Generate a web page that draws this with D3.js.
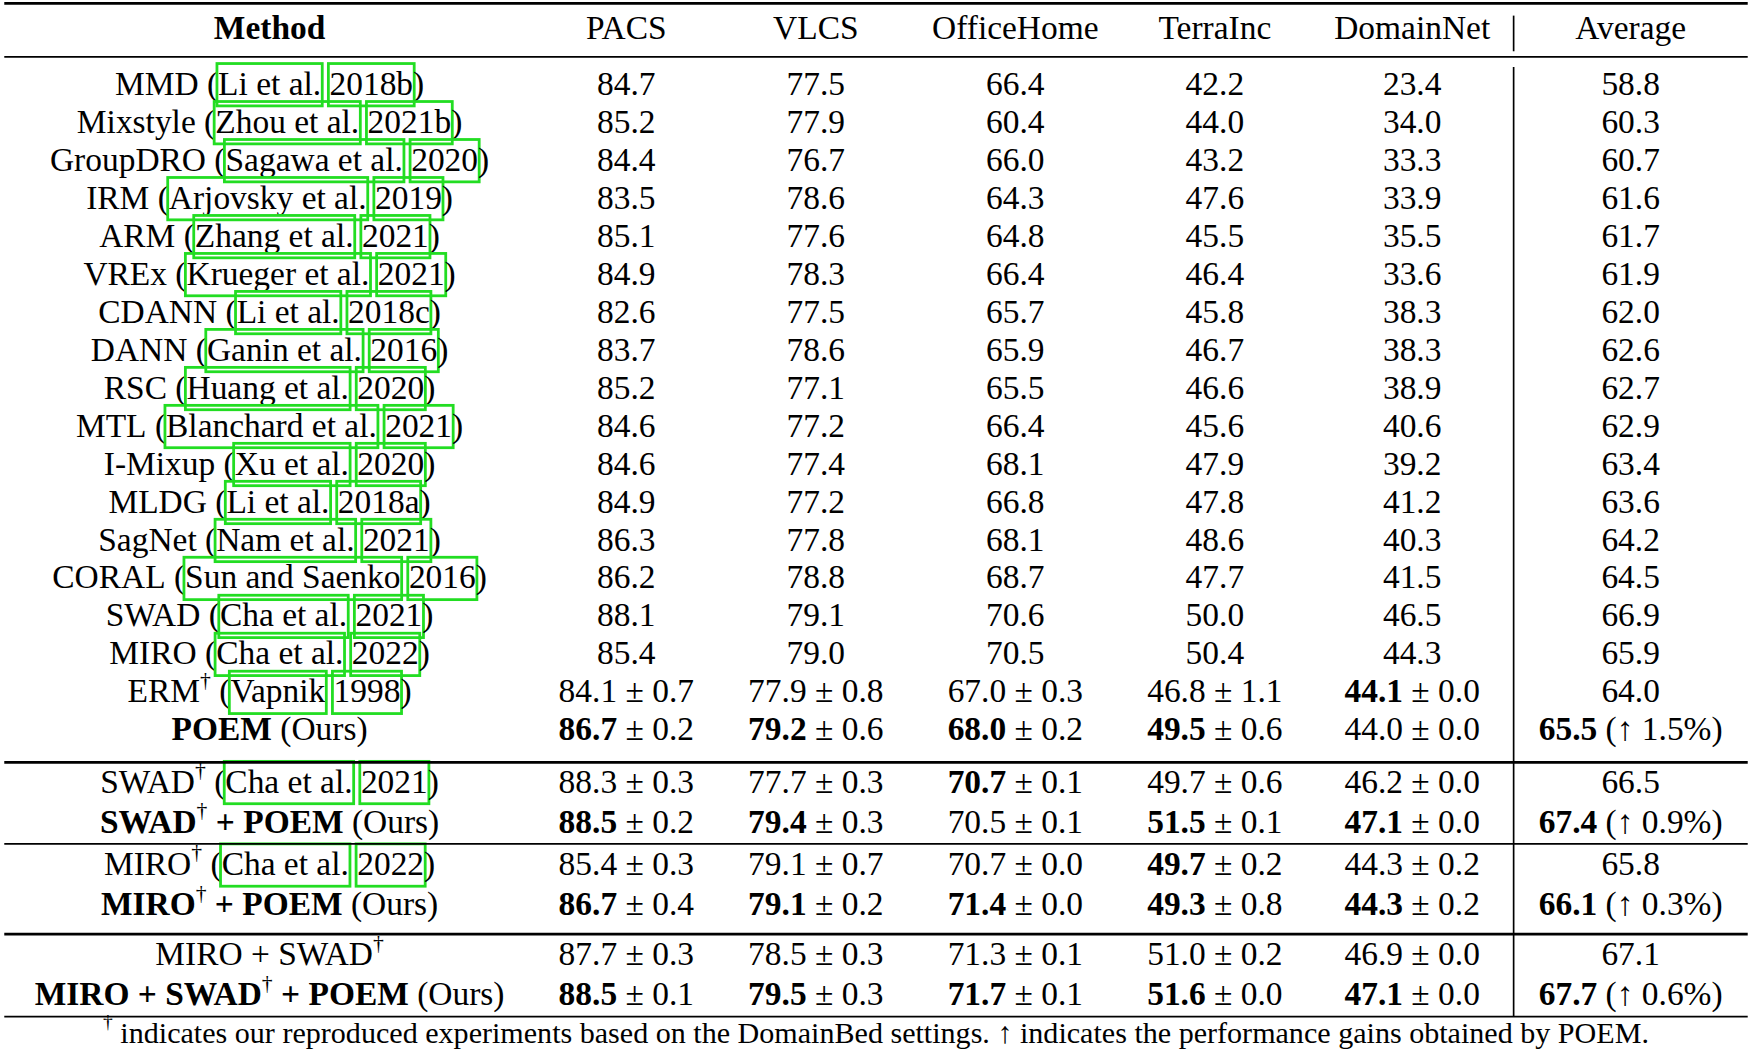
<!DOCTYPE html>
<html><head><meta charset="utf-8">
<script src="https://cdn.jsdelivr.net/npm/d3@7"></script>
<style>body{margin:0;background:#fff}text{font-family:"Liberation Serif","Times New Roman",serif;fill:#000;white-space:pre}</style>
</head><body><svg id="tab"></svg>
<script>
// table data
var columns = ["PACS", "VLCS", "OfficeHome", "TerraInc", "DomainNet", "Average"];
var methods = ["MMD", "Mixstyle", "GroupDRO", "IRM", "ARM", "VREx", "CDANN", "DANN", "RSC", "MTL",
  "I-Mixup", "MLDG", "SagNet", "CORAL", "SWAD", "MIRO", "ERM†", "*POEM", "SWAD†", "*SWAD† + POEM",
  "MIRO†", "*MIRO† + POEM", "MIRO + SWAD†", "*MIRO + SWAD† + POEM"];
var citeAuthor = ["Li et al.", "Zhou et al.", "Sagawa et al.", "Arjovsky et al.", "Zhang et al.", "Krueger et al.",
  "Li et al.", "Ganin et al.", "Huang et al.", "Blanchard et al.", "Xu et al.", "Li et al.", "Nam et al.",
  "Sun and Saenko", "Cha et al.", "Cha et al.", "Vapnik", null, "Cha et al.", null, "Cha et al.", null, null, null];
var citeYear = ["2018b", "2021b", "2020", "2019", "2021", "2021", "2018c", "2016", "2020", "2021", "2020",
  "2018a", "2021", "2016", "2021", "2022", "1998", null, "2021", null, "2022", null, null, null];
var pacs = [84.7,85.2,84.4,83.5,85.1,84.9,82.6,83.7,85.2,84.6,84.6,84.9,86.3,86.2,88.1,85.4,84.1,86.7,88.3,88.5,85.4,86.7,87.7,88.5];
var vlcs = [77.5,77.9,76.7,78.6,77.6,78.3,77.5,78.6,77.1,77.2,77.4,77.2,77.8,78.8,79.1,79.0,77.9,79.2,77.7,79.4,79.1,79.1,78.5,79.5];
var officeHome = [66.4,60.4,66.0,64.3,64.8,66.4,65.7,65.9,65.5,66.4,68.1,66.8,68.1,68.7,70.6,70.5,67.0,68.0,70.7,70.5,70.7,71.4,71.3,71.7];
var terraInc = [42.2,44.0,43.2,47.6,45.5,46.4,45.8,46.7,46.6,45.6,47.9,47.8,48.6,47.7,50.0,50.4,46.8,49.5,49.7,51.5,49.7,49.3,51.0,51.6];
var domainNet = [23.4,34.0,33.3,33.9,35.5,33.6,38.3,38.3,38.9,40.6,39.2,41.2,40.3,41.5,46.5,44.3,44.1,44.0,46.2,47.1,44.3,44.3,46.9,47.1];
var average = [58.8,60.3,60.7,61.6,61.7,61.9,62.0,62.6,62.7,62.9,63.4,63.6,64.2,64.5,66.9,65.9,64.0,65.5,66.5,67.4,65.8,66.1,67.1,67.7];
// std from row 16 on
var pacsStd = [0.7,0.2,0.3,0.2,0.3,0.4,0.3,0.1];
var vlcsStd = [0.8,0.6,0.3,0.3,0.7,0.2,0.3,0.3];
var officeHomeStd = [0.3,0.2,0.1,0.1,0.0,0.0,0.1,0.1];
var terraIncStd = [1.1,0.6,0.6,0.1,0.2,0.8,0.2,0.0];
var domainNetStd = [0.0,0.0,0.0,0.0,0.2,0.2,0.0,0.0];
var averageGain = {17: 1.5, 19: 0.9, 21: 0.3, 23: 0.6};
var boldRows = [[17,19,21,23],[17,19,21,23],[17,18,21,23],[17,19,20,21,23],[16,19,21,23],[17,19,21,23]];
var footnote = " indicates our reproduced experiments based on the DomainBed settings. ↑ indicates the performance gains obtained by POEM.";

var W = 1568, H = 950, fs = 30;
var svg = d3.select("#tab").attr("width", 1752).attr("height", 1059).attr("viewBox", [0, 0, W, H]);
var colX = d3.scaleOrdinal().domain(["Method"].concat(columns)).range([240, 560, 730, 909, 1088, 1265, 1461]);
var rowGroup = [0,0,0,0,0,0,0,0,0,0,0,0,0,0,0,0,0,0,1,1,2,2,3,3];
var groupStart = [75, 701, 775, 856];
var groupFirst = [0, 18, 20, 22];
function rowY(i) { var g = rowGroup[i]; return groupStart[g] + (i - groupFirst[g]) * (g === 0 ? 34.07 : 36); }

// measure + draw segmented text centred at cx
var meas = svg.append("text").attr("font-size", fs).attr("opacity", 0);
function width(t, bold) { meas.attr("font-weight", bold ? "bold" : "normal").text(t); return meas.node().getComputedTextLength(); }
function drawSegs(segs, cx, y, size) {
  size = size || fs;
  meas.attr("font-size", size);
  segs.forEach(function (s) { s.w = s.sup ? width(s.t, false) * 0.65 : width(s.t, s.bold); });
  var x = cx - d3.sum(segs, function (s) { return s.w; }) / 2;
  segs.forEach(function (s) {
    svg.append("text").attr("x", x).attr("y", s.sup ? y - 4 : y + 10)
      .attr("font-size", s.sup ? size * 0.65 : size).attr("font-weight", s.bold ? "bold" : "normal").text(s.t);
    if (s.box) svg.append("rect").attr("x", x - 1).attr("y", y - 18).attr("width", s.w + 2).attr("height", 38)
      .attr("fill", "none").attr("stroke", "#22dd22").attr("stroke-width", 2.5);
    x += s.w;
  });
  meas.attr("font-size", fs);
}
function nameSegs(name) {
  var bold = name[0] === "*"; if (bold) name = name.slice(1);
  var segs = [];
  name.split("†").forEach(function (p, k, a) {
    if (p) segs.push({t: p, bold: bold});
    if (k < a.length - 1) segs.push({t: "†", sup: true});
  });
  return segs;
}

// header
svg.append("text").attr("x", colX("Method")).attr("y", 35).attr("text-anchor", "middle").attr("font-size", fs).attr("font-weight", "bold").text("Method");
columns.forEach(function (c) {
  svg.append("text").attr("x", colX(c)).attr("y", 35).attr("text-anchor", "middle").attr("font-size", fs).text(c);
});

var vals = [pacs, vlcs, officeHome, terraInc, domainNet, average];
var stds = [pacsStd, vlcsStd, officeHomeStd, terraIncStd, domainNetStd];
methods.forEach(function (m, i) {
  var y = rowY(i);
  var segs = nameSegs(m);
  if (citeAuthor[i]) {
    segs.push({t: " ("}, {t: citeAuthor[i], box: true}, {t: " "}, {t: citeYear[i], box: true}, {t: ")"});
  } else if (m[0] === "*") segs.push({t: " (Ours)"});
  drawSegs(segs, colX("Method"), y);
  vals.forEach(function (v, c) {
    var bold = boldRows[c].indexOf(i) >= 0;
    var s = [{t: v[i].toFixed(1), bold: bold}];
    if (c < 5 && i >= 16) s.push({t: " ± " + stds[c][i - 16].toFixed(1)});
    if (c === 5 && averageGain[i] != null) s.push({t: " (↑ " + averageGain[i].toFixed(1) + "%)"});
    drawSegs(s, colX(columns[c]), y);
  });
});

// rules
function hline(y, w) { svg.append("line").attr("x1", 2).attr("x2", 1566).attr("y1", y).attr("y2", y).attr("stroke", "#000").attr("stroke-width", w); }
hline(3, 2.5); hline(51, 1.5); hline(684, 2.5); hline(757, 1.5); hline(838, 2.5); hline(912, 1.5);
svg.append("line").attr("x1", 1356).attr("x2", 1356).attr("y1", 14).attr("y2", 46).attr("stroke", "#000").attr("stroke-width", 1.5);
svg.append("line").attr("x1", 1356).attr("x2", 1356).attr("y1", 60).attr("y2", 912).attr("stroke", "#000").attr("stroke-width", 1.5);

// footnote
drawSegs([{t: "†", sup: true}, {t: footnote}], 784, 926, 27);
meas.remove();
</script></body></html>
